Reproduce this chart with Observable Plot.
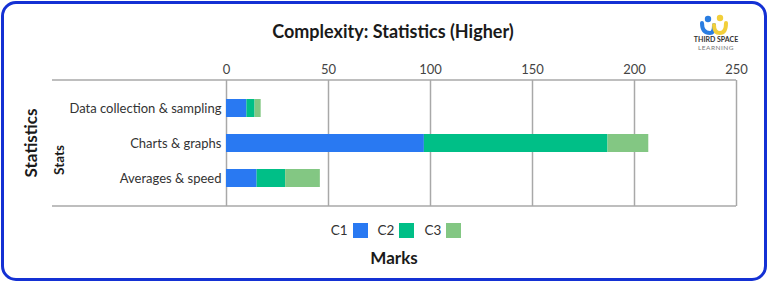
<!DOCTYPE html>
<html>
<head>
<meta charset="utf-8">
<script src="https://cdn.jsdelivr.net/npm/d3@7"></script>
<script src="https://cdn.jsdelivr.net/npm/@observablehq/plot@0.6"></script>
<style>
  html, body { margin: 0; padding: 0; background: #fff; }
  #card { position: relative; width: 768px; height: 282px; overflow: hidden; background: #fff; font-family: Lato, "Open Sans", sans-serif; }
  #border { position: absolute; left: 1px; top: 1px; right: 1px; bottom: 1px; border: 3.5px solid #1431d4; border-radius: 15px; pointer-events: none; }
  #chart { position: absolute; left: 0; top: 0; }
  .title { position: absolute; left: 0; width: 786px; top: 20px; text-align: center; font-weight: 700; font-size: 18px; color: #1a1a1a; }
  .ylab1 { position: absolute; left: 30px; top: 143px; transform: translate(-50%, -50%) rotate(-90deg); font-weight: 700; font-size: 17px; color: #1a1a1a; white-space: nowrap; }
  .ylab2 { position: absolute; left: 59px; top: 160px; transform: translate(-50%, -50%) rotate(-90deg); font-weight: 700; font-size: 13.5px; color: #1a1a1a; white-space: nowrap; }
  #legend { position: absolute; left: 0; width: 792px; top: 222px; display: flex; justify-content: center; gap: 10px; font-size: 13.5px; color: #333; }
  #legend .item { display: flex; align-items: center; gap: 5px; }
  #legend .sw { width: 15px; height: 15px; display: inline-block; }
  .xlab { position: absolute; left: 0; width: 788px; top: 247px; text-align: center; font-weight: 700; font-size: 17px; color: #1a1a1a; }
  #logo { position: absolute; left: 690px; top: 8px; }
</style>
</head>
<body>
<div id="card">
  <div id="chart"></div>
  <div class="title">Complexity: Statistics (Higher)</div>
  <div class="ylab1">Statistics</div>
  <div class="ylab2">Stats</div>
  <div id="legend"></div>
  <div class="xlab">Marks</div>
  <svg id="logo" width="56" height="44" viewBox="0 0 56 44">
    <circle cx="18" cy="11" r="3.2" fill="#2a7de1"/>
    <circle cx="30" cy="10" r="3.2" fill="#f2cf3a"/>
    <path d="M12 15 Q12 25 20 25 Q24 25 24 17" fill="none" stroke="#2a7de1" stroke-width="4" stroke-linecap="round"/>
    <path d="M24 17 Q24 25 30 25 Q36 25 36 15" fill="none" stroke="#f2cf3a" stroke-width="4" stroke-linecap="round"/>
    <text x="26" y="34" text-anchor="middle" font-size="7" font-weight="700" fill="#333" font-family="Lato, sans-serif">THIRD SPACE</text>
    <text x="26" y="42" text-anchor="middle" font-size="6.5" fill="#777" font-family="Lato, sans-serif" letter-spacing="0.5">LEARNING</text>
  </svg>
  <div id="border"></div>
</div>
<script>
const categories = ["Data collection & sampling", "Charts & graphs", "Averages & speed"];
const seriesNames = ["C1", "C2", "C3"];
const c1Values = [10, 97, 15];
const c2Values = [4, 90, 14];
const c3Values = [3, 20, 17];
const xTicks = [0, 50, 100, 150, 200, 250];
const seriesColors = ["#2979f2", "#00bf87", "#83c783"];

const seriesValues = [c1Values, c2Values, c3Values];
const rows = [];
categories.forEach((cat, i) => {
  seriesNames.forEach((s, j) => rows.push({category: cat, series: s, value: seriesValues[j][i]}));
});

const W = 768, H = 282;
const plot = Plot.plot({
  width: W,
  height: H,
  marginLeft: 226,
  marginRight: 32,
  marginTop: 80,
  marginBottom: 76,
  style: {fontFamily: "Lato, 'Open Sans', sans-serif", fontSize: "13px", color: "#333", background: "transparent"},
  x: {domain: [0, 250], ticks: xTicks, axis: null},
  y: {domain: categories, paddingInner: 0.5, paddingOuter: 0.52, axis: null},
  color: {domain: seriesNames, range: seriesColors},
  marks: [
    Plot.gridX(xTicks, {stroke: "#a8a8a8", strokeOpacity: 1, strokeWidth: 1.5}),
    Plot.axisX(xTicks, {anchor: "top", tickSize: 0, tickPadding: 7, fontSize: 13, fill: "#444", label: null}),
    Plot.axisY({tickSize: 0, tickPadding: 5, fontSize: 13, fill: "#333", label: null}),
    Plot.barX(rows, Plot.stackX({x: "value", y: "category", fill: "series", inset: 0}))
  ]
});
document.getElementById("chart").appendChild(plot);

// horizontal frame lines at top and bottom of the band range, extended into the label area
const xs = plot.scale("x"), ys = plot.scale("y");
const svg = d3.select(plot);
const [y0, y1] = ys.range;
[y0, y1].forEach(yy => {
  svg.insert("line", ":first-child")
    .attr("x1", 52).attr("x2", xs.range[1])
    .attr("y1", yy).attr("y2", yy)
    .attr("stroke", "#a8a8a8").attr("stroke-width", 1.5);
});

// legend
const legend = d3.select("#legend");
seriesNames.forEach((s, i) => {
  const item = legend.append("div").attr("class", "item");
  item.append("span").text(s);
  item.append("span").attr("class", "sw").style("background", seriesColors[i]);
});
</script>
</body>
</html>
